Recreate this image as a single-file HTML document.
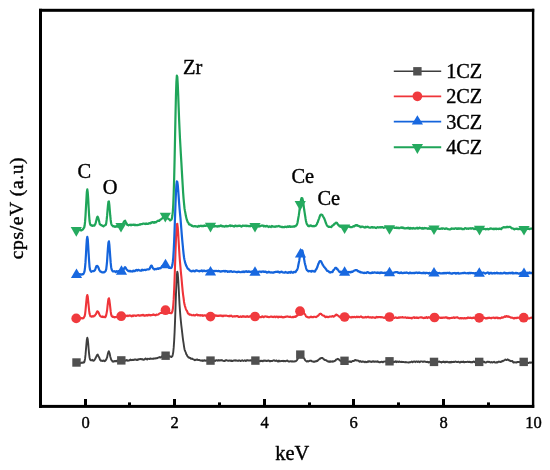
<!DOCTYPE html>
<html><head><meta charset="utf-8"><title>EDS spectra</title>
<style>html,body{margin:0;padding:0;background:#fff;}body{width:550px;height:470px;overflow:hidden;}svg{display:block;}svg text{stroke:#000;stroke-width:0.4px;stroke-linejoin:round;}</style>
</head><body>
<svg width="550" height="470" viewBox="0 0 550 470">
<rect width="550" height="470" fill="#fff"/>
<polyline fill="none" stroke="#3e3e3e" stroke-width="1.9" stroke-linejoin="round" stroke-linecap="round" points="76.50,362.96 76.95,363.03 77.40,363.40 77.85,363.17 78.30,363.09 78.75,363.12 79.20,362.78 79.65,362.90 80.10,363.07 80.55,363.30 81.00,362.78 81.45,362.71 81.90,362.49 82.35,362.91 82.80,362.91 83.25,362.23 83.70,362.55 84.15,362.32 84.60,361.11 85.05,358.92 85.50,354.94 85.95,349.64 86.40,344.40 86.85,339.61 87.30,337.77 87.75,339.37 88.20,343.45 88.65,349.02 89.10,353.82 89.55,357.49 90.00,359.22 90.45,360.08 90.90,360.23 91.35,360.33 91.80,360.10 92.25,359.85 92.70,360.41 93.15,360.70 93.60,360.70 94.05,360.52 94.50,359.94 94.95,359.29 95.40,358.56 95.85,357.37 96.30,356.71 96.75,355.47 97.20,355.00 97.65,354.54 98.10,355.39 98.55,356.50 99.00,357.04 99.45,358.08 99.90,359.58 100.35,360.10 100.80,360.88 101.25,360.77 101.70,360.42 102.15,360.75 102.60,361.05 103.05,360.75 103.50,360.45 103.95,360.53 104.40,361.14 104.85,361.24 105.30,360.65 105.75,360.28 106.20,359.56 106.65,358.43 107.10,357.45 107.55,355.15 108.00,353.27 108.45,351.78 108.90,351.21 109.35,352.53 109.80,354.05 110.25,356.52 110.70,358.09 111.15,359.55 111.60,360.22 112.05,360.61 112.50,361.42 112.95,361.66 113.40,361.28 113.85,361.58 114.30,361.10 114.75,361.01 115.20,361.36 115.65,361.32 116.10,360.80 116.55,361.31 117.00,360.85 117.45,360.64 117.90,360.98 118.35,360.73 118.80,360.56 119.25,360.25 119.70,360.09 120.15,360.44 120.60,360.29 121.05,360.51 121.50,360.42 121.95,360.43 122.40,360.88 122.85,360.66 123.30,360.62 123.75,360.85 124.20,360.34 124.65,360.04 125.10,360.56 125.55,360.73 126.00,360.29 126.45,360.00 126.90,360.34 127.35,360.68 127.80,360.16 128.25,360.57 128.70,360.70 129.15,360.51 129.60,360.23 130.05,359.79 130.50,359.50 130.95,360.18 131.40,359.85 131.85,360.09 132.30,359.79 132.75,360.14 133.20,360.10 133.65,359.79 134.10,359.52 134.55,359.86 135.00,359.43 135.45,359.34 135.90,359.58 136.35,359.96 136.80,359.91 137.25,359.58 137.70,359.97 138.15,359.51 138.60,359.10 139.05,359.11 139.50,359.26 139.95,358.97 140.40,358.92 140.85,359.05 141.30,359.29 141.75,359.00 142.20,359.04 142.65,359.53 143.10,359.84 143.55,359.69 144.00,359.63 144.45,359.50 144.90,359.01 145.35,358.65 145.80,358.42 146.25,359.09 146.70,359.21 147.15,359.48 147.60,358.74 148.05,358.90 148.50,358.82 148.95,358.97 149.40,358.66 149.85,359.09 150.30,358.44 150.75,358.52 151.20,358.71 151.65,358.92 152.10,358.86 152.55,358.77 153.00,358.79 153.45,358.88 153.90,358.39 154.35,358.42 154.80,358.61 155.25,358.64 155.70,358.21 156.15,358.30 156.60,358.38 157.05,358.12 157.50,358.00 157.95,357.68 158.40,357.66 158.85,357.61 159.30,357.04 159.75,357.18 160.20,357.48 160.65,357.45 161.10,357.17 161.55,356.59 162.00,356.46 162.45,356.09 162.90,355.63 163.35,355.62 163.80,354.83 164.25,354.97 164.70,354.37 165.15,354.61 165.60,354.69 166.05,354.61 166.50,355.13 166.95,355.34 167.40,355.70 167.85,356.29 168.30,356.09 168.75,355.87 169.20,356.09 169.65,356.59 170.10,356.45 170.55,356.41 171.00,357.05 171.45,357.06 171.90,356.62 172.35,356.27 172.80,354.52 173.25,352.07 173.70,347.41 174.15,340.88 174.60,332.10 175.05,320.86 175.50,307.91 175.95,294.40 176.40,283.07 176.85,275.07 177.30,271.68 177.75,273.51 178.20,279.45 178.65,287.58 179.10,296.25 179.55,304.64 180.00,311.16 180.45,316.59 180.90,321.46 181.35,325.53 181.80,329.31 182.25,333.20 182.70,337.08 183.15,340.51 183.60,343.47 184.05,346.57 184.50,349.15 184.95,350.68 185.40,351.69 185.85,352.63 186.30,354.26 186.75,354.68 187.20,355.80 187.65,356.50 188.10,356.85 188.55,357.65 189.00,357.50 189.45,357.66 189.90,358.10 190.35,358.04 190.80,358.81 191.25,358.72 191.70,358.63 192.15,358.55 192.60,359.07 193.05,359.20 193.50,359.46 193.95,359.65 194.40,359.92 194.85,360.22 195.30,360.16 195.75,359.72 196.20,359.79 196.65,359.59 197.10,359.37 197.55,359.71 198.00,360.13 198.45,359.89 198.90,359.89 199.35,359.99 199.80,360.39 200.25,360.43 200.70,360.52 201.15,360.69 201.60,360.46 202.05,360.70 202.50,360.92 202.95,360.29 203.40,360.74 203.85,360.78 204.30,360.27 204.75,360.30 205.20,360.48 205.65,360.82 206.10,360.51 206.55,360.53 207.00,360.82 207.45,360.89 207.90,361.06 208.35,360.72 208.80,360.71 209.25,360.31 209.70,360.58 210.15,360.80 210.60,360.75 211.05,360.79 211.50,360.36 211.95,360.77 212.40,361.04 212.85,361.18 213.30,360.85 213.75,360.91 214.20,360.52 214.65,360.86 215.10,360.98 215.55,360.59 216.00,360.15 216.45,360.26 216.90,360.41 217.35,360.68 217.80,360.57 218.25,360.10 218.70,360.56 219.15,360.13 219.60,360.57 220.05,360.23 220.50,360.21 220.95,360.61 221.40,360.22 221.85,360.04 222.30,360.28 222.75,360.59 223.20,360.85 223.65,360.84 224.10,361.07 224.55,360.78 225.00,361.04 225.45,360.40 225.90,360.20 226.35,360.38 226.80,360.26 227.25,360.59 227.70,360.68 228.15,360.62 228.60,360.88 229.05,360.75 229.50,360.47 229.95,360.39 230.40,360.77 230.85,361.01 231.30,360.50 231.75,360.83 232.20,361.10 232.65,360.84 233.10,360.75 233.55,360.38 234.00,360.49 234.45,360.52 234.90,360.62 235.35,360.16 235.80,360.77 236.25,360.67 236.70,360.52 237.15,360.81 237.60,360.74 238.05,360.64 238.50,360.77 238.95,360.27 239.40,360.45 239.85,360.43 240.30,360.91 240.75,361.12 241.20,360.63 241.65,360.58 242.10,360.24 242.55,360.35 243.00,360.74 243.45,361.02 243.90,360.78 244.35,360.51 244.80,360.27 245.25,360.53 245.70,360.94 246.15,360.43 246.60,360.76 247.05,360.25 247.50,360.14 247.95,360.12 248.40,360.53 248.85,360.40 249.30,360.37 249.75,360.59 250.20,360.24 250.65,360.64 251.10,360.29 251.55,360.47 252.00,360.33 252.45,360.21 252.90,360.46 253.35,360.50 253.80,360.47 254.25,360.49 254.70,360.61 255.15,360.34 255.60,360.25 256.05,360.59 256.50,360.77 256.95,360.76 257.40,361.05 257.85,360.99 258.30,361.18 258.75,360.71 259.20,360.94 259.65,361.12 260.10,361.30 260.55,360.86 261.00,360.65 261.45,361.09 261.90,360.68 262.35,361.18 262.80,361.33 263.25,360.73 263.70,360.53 264.15,360.88 264.60,360.63 265.05,360.36 265.50,360.89 265.95,360.79 266.40,361.08 266.85,360.63 267.30,360.65 267.75,360.92 268.20,360.46 268.65,360.40 269.10,360.80 269.55,361.21 270.00,361.47 270.45,360.84 270.90,360.88 271.35,361.13 271.80,361.02 272.25,361.14 272.70,360.76 273.15,360.46 273.60,360.35 274.05,360.23 274.50,360.64 274.95,360.82 275.40,360.95 275.85,360.65 276.30,360.53 276.75,360.49 277.20,361.05 277.65,361.47 278.10,361.62 278.55,360.95 279.00,360.59 279.45,361.22 279.90,361.09 280.35,361.30 280.80,361.02 281.25,361.01 281.70,361.05 282.15,360.99 282.60,361.12 283.05,360.66 283.50,361.05 283.95,361.38 284.40,360.95 284.85,360.99 285.30,361.26 285.75,361.10 286.20,360.83 286.65,360.67 287.10,360.91 287.55,360.58 288.00,361.20 288.45,361.44 288.90,361.47 289.35,361.62 289.80,361.50 290.25,361.23 290.70,361.28 291.15,361.21 291.60,361.61 292.05,361.65 292.50,361.18 292.95,361.53 293.40,361.54 293.85,361.56 294.30,361.57 294.75,361.16 295.20,361.32 295.65,361.27 296.10,360.91 296.55,360.57 297.00,360.11 297.45,359.21 297.90,358.64 298.35,357.34 298.80,356.50 299.25,355.79 299.70,354.71 300.15,354.27 300.60,354.24 301.05,354.29 301.50,354.17 301.95,355.08 302.40,355.70 302.85,356.16 303.30,357.12 303.75,357.94 304.20,358.67 304.65,359.19 305.10,360.23 305.55,360.59 306.00,360.93 306.45,361.23 306.90,361.62 307.35,360.98 307.80,361.21 308.25,361.45 308.70,361.13 309.15,361.11 309.60,360.78 310.05,360.75 310.50,360.90 310.95,360.73 311.40,360.78 311.85,361.40 312.30,361.38 312.75,361.34 313.20,361.74 313.65,361.57 314.10,361.87 314.55,361.70 315.00,361.75 315.45,361.10 315.90,361.22 316.35,361.37 316.80,360.74 317.25,361.11 317.70,360.47 318.15,360.27 318.60,359.69 319.05,359.48 319.50,359.25 319.95,358.43 320.40,358.65 320.85,358.17 321.30,357.99 321.75,358.01 322.20,357.92 322.65,357.99 323.10,358.57 323.55,359.01 324.00,359.20 324.45,359.90 324.90,360.04 325.35,360.00 325.80,360.29 326.25,360.32 326.70,360.48 327.15,361.13 327.60,361.15 328.05,361.62 328.50,361.73 328.95,361.16 329.40,361.72 329.85,361.96 330.30,361.30 330.75,361.71 331.20,361.49 331.65,361.41 332.10,361.79 332.55,361.29 333.00,361.25 333.45,361.52 333.90,361.36 334.35,360.92 334.80,361.01 335.25,360.75 335.70,360.28 336.15,359.48 336.60,359.46 337.05,359.27 337.50,358.99 337.95,358.81 338.40,359.28 338.85,359.32 339.30,359.80 339.75,360.39 340.20,360.63 340.65,360.67 341.10,361.06 341.55,361.15 342.00,361.55 342.45,361.55 342.90,361.97 343.35,362.15 343.80,362.05 344.25,361.55 344.70,361.19 345.15,361.72 345.60,361.88 346.05,361.82 346.50,361.56 346.95,361.35 347.40,361.62 347.85,361.65 348.30,361.69 348.75,361.74 349.20,361.88 349.65,361.44 350.10,361.28 350.55,361.85 351.00,362.06 351.45,362.12 351.90,361.37 352.35,360.97 352.80,360.90 353.25,360.94 353.70,361.06 354.15,360.56 354.60,360.63 355.05,360.17 355.50,359.91 355.95,360.30 356.40,360.40 356.85,360.58 357.30,360.51 357.75,360.67 358.20,360.59 358.65,360.76 359.10,361.28 359.55,361.68 360.00,361.23 360.45,361.07 360.90,361.63 361.35,361.76 361.80,361.96 362.25,361.56 362.70,361.55 363.15,361.40 363.60,361.83 364.05,361.64 364.50,361.81 364.95,362.20 365.40,361.79 365.85,361.79 366.30,361.97 366.75,362.22 367.20,361.90 367.65,361.69 368.10,361.34 368.55,361.86 369.00,361.41 369.45,361.19 369.90,361.51 370.35,361.60 370.80,361.83 371.25,361.59 371.70,361.90 372.15,361.43 372.60,361.32 373.05,361.67 373.50,361.32 373.95,361.35 374.40,361.74 374.85,361.91 375.30,361.62 375.75,361.36 376.20,361.42 376.65,361.78 377.10,361.64 377.55,361.34 378.00,361.73 378.45,361.80 378.90,362.15 379.35,362.34 379.80,362.41 380.25,362.02 380.70,362.16 381.15,361.78 381.60,361.60 382.05,361.58 382.50,362.06 382.95,362.26 383.40,361.78 383.85,361.64 384.30,361.58 384.75,361.55 385.20,361.56 385.65,361.56 386.10,361.39 386.55,361.63 387.00,361.97 387.45,361.90 387.90,362.14 388.35,362.01 388.80,361.60 389.25,361.92 389.70,362.19 390.15,361.78 390.60,361.35 391.05,361.58 391.50,361.72 391.95,361.81 392.40,362.21 392.85,362.13 393.30,362.23 393.75,361.62 394.20,361.74 394.65,362.02 395.10,361.53 395.55,361.28 396.00,361.75 396.45,362.13 396.90,361.59 397.35,361.81 397.80,361.48 398.25,361.86 398.70,361.96 399.15,361.65 399.60,361.47 400.05,361.88 400.50,361.86 400.95,362.07 401.40,361.84 401.85,361.68 402.30,362.17 402.75,362.14 403.20,361.97 403.65,361.93 404.10,362.07 404.55,362.13 405.00,362.35 405.45,362.00 405.90,362.21 406.35,362.17 406.80,362.31 407.25,362.35 407.70,362.39 408.15,362.46 408.60,362.56 409.05,362.32 409.50,362.10 409.95,362.16 410.40,362.27 410.85,361.99 411.30,361.84 411.75,361.53 412.20,361.90 412.65,362.32 413.10,361.97 413.55,361.61 414.00,361.47 414.45,361.59 414.90,361.54 415.35,362.12 415.80,361.59 416.25,361.55 416.70,361.36 417.15,361.75 417.60,362.05 418.05,361.67 418.50,361.38 418.95,361.59 419.40,361.80 419.85,362.21 420.30,361.62 420.75,361.40 421.20,361.35 421.65,361.36 422.10,361.38 422.55,361.83 423.00,361.94 423.45,361.67 423.90,361.49 424.35,361.50 424.80,361.40 425.25,361.88 425.70,361.72 426.15,361.85 426.60,362.16 427.05,362.01 427.50,361.74 427.95,362.17 428.40,362.41 428.85,362.02 429.30,362.00 429.75,362.37 430.20,362.12 430.65,361.77 431.10,361.44 431.55,362.08 432.00,362.27 432.45,361.99 432.90,361.98 433.35,361.97 433.80,361.74 434.25,362.28 434.70,362.24 435.15,361.85 435.60,361.45 436.05,361.67 436.50,361.69 436.95,362.08 437.40,362.20 437.85,362.16 438.30,361.74 438.75,361.53 439.20,361.58 439.65,361.55 440.10,362.08 440.55,362.03 441.00,362.11 441.45,362.48 441.90,362.01 442.35,362.01 442.80,361.67 443.25,362.06 443.70,361.56 444.15,362.05 444.60,362.32 445.05,362.43 445.50,361.82 445.95,361.69 446.40,362.02 446.85,361.64 447.30,361.79 447.75,361.85 448.20,362.32 448.65,362.23 449.10,362.43 449.55,362.03 450.00,362.27 450.45,362.05 450.90,362.39 451.35,361.82 451.80,362.20 452.25,361.83 452.70,361.95 453.15,362.00 453.60,361.69 454.05,362.14 454.50,361.90 454.95,361.78 455.40,361.51 455.85,361.58 456.30,361.76 456.75,362.08 457.20,361.92 457.65,362.13 458.10,361.71 458.55,361.77 459.00,361.85 459.45,362.35 459.90,362.48 460.35,362.38 460.80,361.76 461.25,361.78 461.70,362.09 462.15,361.81 462.60,361.97 463.05,361.96 463.50,361.55 463.95,362.23 464.40,362.39 464.85,361.94 465.30,362.09 465.75,361.87 466.20,361.84 466.65,361.97 467.10,361.82 467.55,361.78 468.00,361.81 468.45,362.07 468.90,361.83 469.35,361.66 469.80,362.06 470.25,361.89 470.70,362.36 471.15,362.26 471.60,362.35 472.05,362.04 472.50,362.34 472.95,361.82 473.40,361.61 473.85,361.46 474.30,361.91 474.75,362.17 475.20,361.82 475.65,361.84 476.10,362.25 476.55,362.23 477.00,361.77 477.45,361.67 477.90,361.55 478.35,361.46 478.80,361.67 479.25,361.48 479.70,362.15 480.15,362.04 480.60,362.06 481.05,362.19 481.50,362.37 481.95,362.50 482.40,362.18 482.85,361.97 483.30,361.94 483.75,361.57 484.20,361.73 484.65,362.08 485.10,362.51 485.55,362.55 486.00,362.45 486.45,362.36 486.90,361.78 487.35,361.78 487.80,361.78 488.25,362.06 488.70,361.72 489.15,361.79 489.60,361.94 490.05,362.27 490.50,362.47 490.95,362.37 491.40,361.92 491.85,362.24 492.30,362.53 492.75,362.35 493.20,362.08 493.65,362.09 494.10,361.76 494.55,362.12 495.00,362.54 495.45,362.33 495.90,362.40 496.35,362.54 496.80,362.04 497.25,362.46 497.70,362.37 498.15,361.93 498.60,361.60 499.05,361.55 499.50,361.80 499.95,361.99 500.40,361.71 500.85,362.05 501.30,361.63 501.75,361.42 502.20,360.91 502.65,361.30 503.10,360.62 503.55,360.84 504.00,360.50 504.45,360.22 504.90,359.98 505.35,359.51 505.80,359.80 506.25,359.99 506.70,359.94 507.15,359.77 507.60,359.32 508.05,359.82 508.50,359.71 508.95,360.33 509.40,360.19 509.85,360.55 510.30,361.09 510.75,360.89 511.20,361.23 511.65,361.06 512.10,361.00 512.55,361.17 513.00,362.03 513.45,362.45 513.90,362.43 514.35,362.13 514.80,362.32 515.25,362.48 515.70,362.25 516.15,362.33 516.60,362.56 517.05,361.97 517.50,361.85 517.95,362.03 518.40,361.83 518.85,361.95 519.30,362.18 519.75,361.94 520.20,362.13 520.65,362.00 521.10,362.21 521.55,362.10 522.00,362.33 522.45,361.90 522.90,362.26 523.35,361.97 523.80,362.56 524.25,362.53 524.70,362.40 525.15,362.29 525.60,362.42 526.05,362.55 526.50,362.68 526.95,362.74 527.40,362.53 527.85,362.89 528.30,362.93 528.75,362.97 529.20,362.59 529.65,362.42 530.10,362.46 530.55,362.78 531.00,362.61 531.45,362.52 531.90,362.40 532.35,362.76 532.80,362.42"/>
<g fill="#505050"><rect x="72.30" y="358.30" width="8.4" height="8.4"/><rect x="117.10" y="356.20" width="8.4" height="8.4"/><rect x="161.40" y="351.50" width="8.4" height="8.4"/><rect x="206.30" y="356.40" width="8.4" height="8.4"/><rect x="251.20" y="356.40" width="8.4" height="8.4"/><rect x="296.10" y="350.40" width="8.4" height="8.4"/><rect x="340.30" y="356.60" width="8.4" height="8.4"/><rect x="385.30" y="357.10" width="8.4" height="8.4"/><rect x="429.80" y="357.70" width="8.4" height="8.4"/><rect x="475.00" y="357.70" width="8.4" height="8.4"/><rect x="519.50" y="357.70" width="8.4" height="8.4"/></g>
<polyline fill="none" stroke="#ef3439" stroke-width="2.1" stroke-linejoin="round" stroke-linecap="round" points="76.50,318.70 76.95,318.15 77.40,317.77 77.85,318.44 78.30,318.04 78.75,317.78 79.20,318.11 79.65,318.00 80.10,318.42 80.55,318.04 81.00,318.49 81.45,318.13 81.90,318.20 82.35,318.45 82.80,318.28 83.25,318.32 83.70,317.98 84.15,316.87 84.60,316.29 85.05,314.26 85.50,310.61 85.95,305.60 86.40,300.78 86.85,296.47 87.30,295.07 87.75,296.66 88.20,301.00 88.65,305.89 89.10,310.45 89.55,313.57 90.00,315.01 90.45,316.28 90.90,316.22 91.35,316.51 91.80,316.76 92.25,316.62 92.70,316.12 93.15,316.49 93.60,316.52 94.05,316.04 94.50,315.56 94.95,315.50 95.40,314.60 95.85,314.39 96.30,313.29 96.75,312.22 97.20,311.37 97.65,311.32 98.10,312.04 98.55,312.55 99.00,313.54 99.45,314.74 99.90,315.39 100.35,316.13 100.80,316.51 101.25,316.61 101.70,316.88 102.15,316.88 102.60,316.48 103.05,317.10 103.50,316.84 103.95,316.78 104.40,316.71 104.85,317.10 105.30,317.17 105.75,316.43 106.20,315.16 106.65,312.83 107.10,310.29 107.55,305.93 108.00,302.02 108.45,299.00 108.90,298.23 109.35,300.01 109.80,303.45 110.25,307.41 110.70,311.39 111.15,314.37 111.60,315.95 112.05,316.34 112.50,316.92 112.95,316.59 113.40,316.70 113.85,317.11 114.30,317.38 114.75,317.09 115.20,317.27 115.65,317.04 116.10,316.93 116.55,316.92 117.00,317.26 117.45,317.20 117.90,316.91 118.35,316.98 118.80,316.92 119.25,316.62 119.70,316.84 120.15,316.97 120.60,316.83 121.05,317.05 121.50,316.31 121.95,316.36 122.40,316.49 122.85,316.27 123.30,316.00 123.75,316.32 124.20,316.23 124.65,316.02 125.10,315.70 125.55,316.35 126.00,316.11 126.45,315.77 126.90,315.67 127.35,315.64 127.80,316.16 128.25,315.78 128.70,315.67 129.15,315.44 129.60,315.64 130.05,315.49 130.50,315.54 130.95,315.91 131.40,316.26 131.85,316.35 132.30,315.67 132.75,315.63 133.20,316.02 133.65,315.48 134.10,315.35 134.55,315.54 135.00,315.53 135.45,315.85 135.90,315.98 136.35,315.80 136.80,315.52 137.25,315.35 137.70,315.29 138.15,315.08 138.60,315.50 139.05,315.25 139.50,315.78 139.95,315.81 140.40,315.29 140.85,315.41 141.30,315.55 141.75,315.10 142.20,315.27 142.65,314.93 143.10,315.41 143.55,314.95 144.00,315.28 144.45,315.74 144.90,315.84 145.35,315.33 145.80,315.33 146.25,314.96 146.70,314.95 147.15,315.40 147.60,315.57 148.05,314.92 148.50,314.91 148.95,315.13 149.40,314.81 149.85,315.20 150.30,315.47 150.75,315.28 151.20,315.01 151.65,315.29 152.10,315.12 152.55,314.73 153.00,314.61 153.45,314.43 153.90,314.94 154.35,314.88 154.80,315.01 155.25,315.15 155.70,315.32 156.15,314.67 156.60,314.50 157.05,314.80 157.50,314.81 157.95,314.43 158.40,314.43 158.85,313.95 159.30,313.59 159.75,313.21 160.20,313.20 160.65,312.92 161.10,312.85 161.55,313.02 162.00,312.15 162.45,311.84 162.90,311.74 163.35,311.25 163.80,310.78 164.25,310.66 164.70,309.88 165.15,310.36 165.60,310.45 166.05,310.74 166.50,311.08 166.95,310.78 167.40,310.79 167.85,311.07 168.30,311.66 168.75,312.46 169.20,312.92 169.65,312.76 170.10,312.91 170.55,313.16 171.00,312.86 171.45,313.09 171.90,312.73 172.35,311.43 172.80,309.27 173.25,305.35 173.70,299.14 174.15,290.12 174.60,278.70 175.05,265.43 175.50,251.47 175.95,239.59 176.40,229.83 176.85,224.26 177.30,223.83 177.75,227.28 178.20,233.91 178.65,241.55 179.10,249.01 179.55,256.03 180.00,261.94 180.45,267.06 180.90,272.24 181.35,276.68 181.80,281.50 182.25,286.55 182.70,291.32 183.15,295.09 183.60,298.27 184.05,301.95 184.50,304.38 184.95,306.10 185.40,307.49 185.85,308.79 186.30,309.93 186.75,310.72 187.20,311.36 187.65,312.81 188.10,313.61 188.55,313.57 189.00,314.02 189.45,314.65 189.90,314.77 190.35,314.49 190.80,314.63 191.25,314.76 191.70,315.32 192.15,315.32 192.60,315.21 193.05,315.32 193.50,314.86 193.95,315.20 194.40,315.49 194.85,315.52 195.30,315.26 195.75,315.07 196.20,314.73 196.65,314.64 197.10,314.66 197.55,314.94 198.00,315.38 198.45,315.11 198.90,315.20 199.35,315.40 199.80,315.51 200.25,315.01 200.70,315.58 201.15,315.57 201.60,315.32 202.05,315.14 202.50,315.46 202.95,315.85 203.40,315.51 203.85,315.41 204.30,315.50 204.75,315.21 205.20,315.28 205.65,315.78 206.10,315.71 206.55,315.92 207.00,315.53 207.45,315.89 207.90,315.99 208.35,315.55 208.80,315.61 209.25,315.78 209.70,315.77 210.15,315.80 210.60,315.50 211.05,315.63 211.50,315.53 211.95,315.88 212.40,315.68 212.85,316.13 213.30,316.01 213.75,315.63 214.20,315.62 214.65,315.36 215.10,315.78 215.55,315.38 216.00,315.69 216.45,315.58 216.90,315.95 217.35,315.56 217.80,315.87 218.25,316.06 218.70,315.73 219.15,315.48 219.60,315.57 220.05,315.88 220.50,315.69 220.95,315.37 221.40,315.61 221.85,316.06 222.30,315.71 222.75,316.24 223.20,316.13 223.65,315.76 224.10,315.53 224.55,315.67 225.00,315.83 225.45,315.65 225.90,315.49 226.35,315.79 226.80,315.72 227.25,315.86 227.70,315.95 228.15,316.21 228.60,316.25 229.05,315.96 229.50,315.77 229.95,316.30 230.40,315.84 230.85,315.68 231.30,315.56 231.75,316.19 232.20,316.25 232.65,316.63 233.10,316.56 233.55,316.27 234.00,316.21 234.45,316.46 234.90,316.15 235.35,316.51 235.80,316.34 236.25,315.93 236.70,316.00 237.15,316.24 237.60,315.99 238.05,316.56 238.50,316.87 238.95,316.65 239.40,316.90 239.85,316.84 240.30,316.68 240.75,316.27 241.20,316.78 241.65,317.01 242.10,316.71 242.55,316.51 243.00,316.13 243.45,316.44 243.90,316.82 244.35,316.59 244.80,316.39 245.25,316.59 245.70,316.86 246.15,316.44 246.60,316.33 247.05,316.61 247.50,316.22 247.95,316.72 248.40,316.53 248.85,316.90 249.30,316.76 249.75,316.43 250.20,316.14 250.65,316.08 251.10,316.18 251.55,316.68 252.00,316.97 252.45,316.97 252.90,316.68 253.35,316.86 253.80,317.01 254.25,316.76 254.70,316.38 255.15,316.55 255.60,316.41 256.05,316.31 256.50,316.45 256.95,316.23 257.40,316.87 257.85,316.63 258.30,317.08 258.75,317.15 259.20,316.54 259.65,317.04 260.10,317.21 260.55,317.04 261.00,317.28 261.45,317.04 261.90,316.51 262.35,316.36 262.80,316.44 263.25,316.97 263.70,317.21 264.15,316.70 264.60,316.65 265.05,316.41 265.50,316.40 265.95,316.51 266.40,316.63 266.85,316.45 267.30,316.82 267.75,316.63 268.20,317.12 268.65,317.00 269.10,316.90 269.55,317.15 270.00,316.90 270.45,316.70 270.90,316.48 271.35,316.53 271.80,316.50 272.25,316.94 272.70,316.82 273.15,317.08 273.60,316.83 274.05,316.52 274.50,316.58 274.95,316.69 275.40,317.21 275.85,316.83 276.30,316.66 276.75,316.53 277.20,316.55 277.65,317.20 278.10,317.50 278.55,317.02 279.00,316.62 279.45,316.82 279.90,317.01 280.35,316.68 280.80,316.80 281.25,317.17 281.70,316.67 282.15,317.07 282.60,317.24 283.05,317.42 283.50,317.24 283.95,317.13 284.40,317.13 284.85,316.79 285.30,316.96 285.75,316.79 286.20,316.78 286.65,316.53 287.10,316.50 287.55,316.40 288.00,316.78 288.45,316.70 288.90,316.95 289.35,317.02 289.80,316.81 290.25,316.62 290.70,316.94 291.15,317.17 291.60,317.30 292.05,317.20 292.50,317.21 292.95,316.71 293.40,316.71 293.85,317.14 294.30,316.96 294.75,316.58 295.20,316.62 295.65,316.93 296.10,316.29 296.55,315.80 297.00,315.65 297.45,315.59 297.90,314.73 298.35,313.72 298.80,313.18 299.25,311.81 299.70,310.84 300.15,310.25 300.60,309.93 301.05,309.68 301.50,309.14 301.95,309.04 302.40,309.44 302.85,309.88 303.30,310.74 303.75,312.13 304.20,313.49 304.65,313.94 305.10,314.33 305.55,315.38 306.00,316.31 306.45,316.74 306.90,316.71 307.35,317.04 307.80,317.25 308.25,317.35 308.70,317.19 309.15,317.56 309.60,317.56 310.05,317.06 310.50,316.99 310.95,316.65 311.40,316.73 311.85,317.17 312.30,317.09 312.75,317.08 313.20,317.30 313.65,316.78 314.10,316.74 314.55,316.82 315.00,316.83 315.45,316.95 315.90,317.15 316.35,317.02 316.80,316.57 317.25,316.30 317.70,315.82 318.15,315.77 318.60,315.18 319.05,314.69 319.50,314.13 319.95,313.79 320.40,313.92 320.85,313.71 321.30,314.22 321.75,314.51 322.20,315.07 322.65,315.35 323.10,315.58 323.55,315.70 324.00,315.59 324.45,316.23 324.90,316.71 325.35,316.99 325.80,317.19 326.25,316.66 326.70,316.99 327.15,316.79 327.60,316.80 328.05,317.23 328.50,317.03 328.95,316.99 329.40,316.59 329.85,316.50 330.30,316.48 330.75,316.46 331.20,316.72 331.65,316.39 332.10,316.21 332.55,316.06 333.00,316.48 333.45,316.79 333.90,316.61 334.35,316.17 334.80,315.45 335.25,315.57 335.70,314.95 336.15,314.56 336.60,314.77 337.05,315.27 337.50,315.15 337.95,315.72 338.40,315.69 338.85,316.38 339.30,316.65 339.75,316.99 340.20,317.34 340.65,317.41 341.10,316.92 341.55,316.98 342.00,317.04 342.45,317.24 342.90,316.89 343.35,317.04 343.80,316.84 344.25,316.66 344.70,316.81 345.15,317.20 345.60,317.17 346.05,316.98 346.50,316.77 346.95,316.78 347.40,316.83 347.85,316.73 348.30,316.72 348.75,316.64 349.20,316.66 349.65,317.02 350.10,317.15 350.55,317.22 351.00,317.52 351.45,317.44 351.90,316.92 352.35,316.91 352.80,317.01 353.25,317.26 353.70,317.19 354.15,316.76 354.60,316.90 355.05,317.12 355.50,317.36 355.95,317.17 356.40,316.86 356.85,316.55 357.30,316.82 357.75,317.17 358.20,316.78 358.65,316.95 359.10,317.10 359.55,317.15 360.00,316.88 360.45,316.62 360.90,316.42 361.35,316.58 361.80,317.19 362.25,317.07 362.70,317.52 363.15,317.60 363.60,317.42 364.05,317.21 364.50,317.21 364.95,317.46 365.40,317.14 365.85,316.82 366.30,317.33 366.75,317.34 367.20,317.13 367.65,317.04 368.10,316.73 368.55,317.00 369.00,317.33 369.45,317.24 369.90,317.38 370.35,317.49 370.80,317.18 371.25,317.30 371.70,317.67 372.15,317.62 372.60,317.12 373.05,317.31 373.50,317.38 373.95,317.54 374.40,317.56 374.85,317.76 375.30,317.92 375.75,317.31 376.20,317.25 376.65,316.84 377.10,317.48 377.55,317.01 378.00,317.07 378.45,317.27 378.90,317.20 379.35,316.94 379.80,317.11 380.25,316.95 380.70,317.11 381.15,317.39 381.60,317.16 382.05,317.18 382.50,317.36 382.95,317.37 383.40,317.61 383.85,317.82 384.30,317.99 384.75,317.36 385.20,317.33 385.65,316.99 386.10,317.35 386.55,317.26 387.00,317.62 387.45,317.48 387.90,317.69 388.35,317.11 388.80,317.34 389.25,317.29 389.70,317.64 390.15,317.16 390.60,316.91 391.05,317.32 391.50,317.21 391.95,317.25 392.40,317.25 392.85,317.77 393.30,317.71 393.75,317.87 394.20,317.96 394.65,318.02 395.10,317.69 395.55,317.38 396.00,317.43 396.45,317.80 396.90,317.98 397.35,317.71 397.80,317.96 398.25,317.96 398.70,317.31 399.15,317.52 399.60,317.78 400.05,317.23 400.50,317.26 400.95,317.52 401.40,317.52 401.85,317.55 402.30,317.16 402.75,317.13 403.20,317.66 403.65,317.46 404.10,317.48 404.55,317.59 405.00,317.37 405.45,317.38 405.90,317.47 406.35,317.84 406.80,318.00 407.25,317.49 407.70,317.53 408.15,317.77 408.60,318.03 409.05,317.83 409.50,317.82 409.95,317.83 410.40,317.85 410.85,318.07 411.30,318.27 411.75,318.37 412.20,317.64 412.65,317.81 413.10,317.61 413.55,317.41 414.00,317.15 414.45,317.75 414.90,318.03 415.35,317.85 415.80,317.73 416.25,317.41 416.70,317.90 417.15,318.00 417.60,317.51 418.05,317.64 418.50,318.09 418.95,317.65 419.40,317.53 419.85,317.47 420.30,317.44 420.75,317.20 421.20,317.55 421.65,317.37 422.10,317.68 422.55,317.65 423.00,317.97 423.45,318.04 423.90,318.18 424.35,317.62 424.80,317.92 425.25,318.05 425.70,317.68 426.15,317.24 426.60,317.11 427.05,317.65 427.50,318.10 427.95,317.51 428.40,317.38 428.85,317.46 429.30,317.20 429.75,317.59 430.20,317.98 430.65,318.16 431.10,317.66 431.55,318.06 432.00,318.16 432.45,317.64 432.90,318.01 433.35,318.26 433.80,318.35 434.25,318.28 434.70,318.30 435.15,318.06 435.60,317.47 436.05,317.78 436.50,317.77 436.95,317.46 437.40,317.29 437.85,317.88 438.30,318.19 438.75,317.59 439.20,317.25 439.65,317.70 440.10,317.56 440.55,318.01 441.00,317.87 441.45,318.03 441.90,317.51 442.35,317.91 442.80,317.59 443.25,317.64 443.70,317.72 444.15,317.61 444.60,317.49 445.05,317.61 445.50,317.32 445.95,317.27 446.40,317.22 446.85,317.85 447.30,317.68 447.75,318.20 448.20,318.39 448.65,317.82 449.10,318.16 449.55,318.45 450.00,318.11 450.45,317.97 450.90,318.08 451.35,317.97 451.80,317.71 452.25,318.01 452.70,317.69 453.15,317.69 453.60,317.36 454.05,317.47 454.50,317.96 454.95,317.61 455.40,317.47 455.85,317.59 456.30,317.57 456.75,317.29 457.20,317.20 457.65,317.28 458.10,317.86 458.55,318.13 459.00,318.29 459.45,318.28 459.90,318.54 460.35,318.01 460.80,318.14 461.25,317.98 461.70,318.36 462.15,318.08 462.60,318.20 463.05,318.30 463.50,318.52 463.95,318.46 464.40,318.03 464.85,318.11 465.30,318.28 465.75,318.49 466.20,317.98 466.65,318.15 467.10,318.23 467.55,317.77 468.00,317.50 468.45,317.76 468.90,317.93 469.35,317.77 469.80,317.95 470.25,317.62 470.70,317.84 471.15,317.91 471.60,318.21 472.05,318.27 472.50,317.72 472.95,317.87 473.40,317.56 473.85,317.77 474.30,318.01 474.75,318.15 475.20,317.60 475.65,317.79 476.10,317.57 476.55,317.75 477.00,317.83 477.45,317.87 477.90,318.14 478.35,317.85 478.80,317.87 479.25,317.67 479.70,317.53 480.15,317.85 480.60,317.58 481.05,318.03 481.50,317.87 481.95,317.55 482.40,318.00 482.85,317.54 483.30,317.55 483.75,317.88 484.20,317.48 484.65,317.89 485.10,317.97 485.55,318.38 486.00,317.99 486.45,318.26 486.90,318.53 487.35,318.24 487.80,317.71 488.25,317.68 488.70,318.10 489.15,317.57 489.60,317.88 490.05,317.93 490.50,318.15 490.95,317.93 491.40,318.33 491.85,317.79 492.30,317.80 492.75,317.70 493.20,317.88 493.65,317.66 494.10,317.70 494.55,317.78 495.00,318.25 495.45,317.67 495.90,317.62 496.35,317.47 496.80,317.90 497.25,318.16 497.70,317.61 498.15,318.02 498.60,318.31 499.05,318.06 499.50,318.05 499.95,318.19 500.40,318.36 500.85,317.78 501.30,317.88 501.75,317.32 502.20,317.24 502.65,317.62 503.10,317.50 503.55,317.28 504.00,317.02 504.45,316.83 504.90,316.30 505.35,316.47 505.80,316.86 506.25,316.30 506.70,315.96 507.15,316.33 507.60,316.74 508.05,316.64 508.50,316.34 508.95,316.76 509.40,317.06 509.85,316.89 510.30,317.40 510.75,317.48 511.20,317.79 511.65,317.49 512.10,317.50 512.55,317.80 513.00,317.98 513.45,318.25 513.90,318.49 514.35,318.41 514.80,317.74 515.25,317.82 515.70,318.05 516.15,318.26 516.60,317.95 517.05,317.57 517.50,317.85 517.95,317.64 518.40,317.82 518.85,317.66 519.30,318.16 519.75,317.65 520.20,317.87 520.65,318.27 521.10,318.25 521.55,317.80 522.00,317.94 522.45,318.26 522.90,318.24 523.35,318.48 523.80,318.52 524.25,318.15 524.70,317.73 525.15,318.03 525.60,317.99 526.05,318.28 526.50,318.09 526.95,318.24 527.40,317.79 527.85,318.12 528.30,318.39 528.75,318.47 529.20,318.48 529.65,318.39 530.10,317.90 530.55,317.79 531.00,317.70 531.45,317.66 531.90,317.91 532.35,317.83 532.80,318.06"/>
<g fill="#f03a3e"><circle cx="76.20" cy="318.40" r="4.85"/><circle cx="121.20" cy="316.20" r="4.85"/><circle cx="165.50" cy="310.20" r="4.85"/><circle cx="210.50" cy="316.60" r="4.85"/><circle cx="255.00" cy="316.50" r="4.85"/><circle cx="300.00" cy="311.20" r="4.85"/><circle cx="344.60" cy="317.00" r="4.85"/><circle cx="389.50" cy="317.00" r="4.85"/><circle cx="434.50" cy="317.50" r="4.85"/><circle cx="479.20" cy="317.80" r="4.85"/><circle cx="523.70" cy="317.70" r="4.85"/></g>
<polyline fill="none" stroke="#1464dc" stroke-width="2.2" stroke-linejoin="round" stroke-linecap="round" points="76.50,273.85 76.95,273.98 77.40,274.23 77.85,273.88 78.30,274.07 78.75,274.39 79.20,274.59 79.65,274.06 80.10,274.23 80.55,274.30 81.00,274.26 81.45,274.67 81.90,274.50 82.35,274.19 82.80,274.37 83.25,274.05 83.70,273.34 84.15,272.42 84.60,270.89 85.05,267.32 85.50,262.18 85.95,254.76 86.40,246.04 86.85,239.38 87.30,236.84 87.75,239.19 88.20,245.97 88.65,253.83 89.10,260.96 89.55,266.83 90.00,269.48 90.45,270.63 90.90,271.62 91.35,271.84 91.80,271.30 92.25,271.22 92.70,271.15 93.15,271.13 93.60,270.84 94.05,271.03 94.50,270.65 94.95,270.09 95.40,268.97 95.85,267.62 96.30,266.25 96.75,266.01 97.20,265.92 97.65,266.27 98.10,266.87 98.55,268.00 99.00,269.18 99.45,270.35 99.90,270.89 100.35,271.44 100.80,271.67 101.25,271.79 101.70,272.27 102.15,272.33 102.60,272.32 103.05,272.19 103.50,272.26 103.95,272.50 104.40,272.14 104.85,271.64 105.30,271.49 105.75,270.68 106.20,269.30 106.65,265.63 107.10,261.03 107.55,253.92 108.00,247.41 108.45,242.58 108.90,241.27 109.35,244.62 109.80,250.54 110.25,256.88 110.70,262.89 111.15,267.21 111.60,269.19 112.05,270.19 112.50,271.04 112.95,271.49 113.40,271.46 113.85,271.40 114.30,271.44 114.75,271.24 115.20,271.70 115.65,272.01 116.10,271.74 116.55,271.19 117.00,271.25 117.45,271.66 117.90,271.43 118.35,271.12 118.80,271.04 119.25,271.48 119.70,271.62 120.15,271.39 120.60,271.57 121.05,271.76 121.50,271.96 121.95,271.80 122.40,271.12 122.85,270.73 123.30,270.14 123.75,269.25 124.20,268.26 124.65,267.43 125.10,267.11 125.55,267.69 126.00,268.35 126.45,269.31 126.90,269.74 127.35,270.06 127.80,270.47 128.25,270.98 128.70,271.22 129.15,270.98 129.60,270.84 130.05,271.44 130.50,270.90 130.95,271.38 131.40,271.45 131.85,271.28 132.30,271.54 132.75,271.37 133.20,270.65 133.65,271.10 134.10,270.82 134.55,271.11 135.00,271.14 135.45,270.51 135.90,270.09 136.35,269.83 136.80,270.36 137.25,270.60 137.70,270.19 138.15,269.86 138.60,269.89 139.05,270.27 139.50,270.38 139.95,270.52 140.40,270.72 140.85,270.64 141.30,270.68 141.75,269.97 142.20,269.62 142.65,270.22 143.10,270.31 143.55,270.11 144.00,269.83 144.45,269.89 144.90,269.93 145.35,270.06 145.80,270.05 146.25,269.80 146.70,269.55 147.15,269.51 147.60,269.40 148.05,269.28 148.50,269.42 148.95,269.05 149.40,269.09 149.85,268.32 150.30,267.21 150.75,266.40 151.20,265.70 151.65,265.68 152.10,266.42 152.55,267.56 153.00,268.40 153.45,268.77 153.90,268.95 154.35,269.47 154.80,268.95 155.25,269.06 155.70,269.03 156.15,268.89 156.60,269.19 157.05,268.86 157.50,268.48 157.95,268.34 158.40,268.94 158.85,268.58 159.30,268.09 159.75,268.48 160.20,268.22 160.65,268.19 161.10,267.42 161.55,267.25 162.00,266.27 162.45,265.76 162.90,265.83 163.35,265.49 163.80,265.48 164.25,265.09 164.70,265.36 165.15,264.86 165.60,265.23 166.05,265.17 166.50,265.33 166.95,266.20 167.40,266.40 167.85,266.99 168.30,266.94 168.75,267.41 169.20,267.89 169.65,267.91 170.10,267.60 170.55,267.87 171.00,268.16 171.45,267.90 171.90,266.83 172.35,265.08 172.80,261.92 173.25,257.76 173.70,250.57 174.15,241.12 174.60,229.33 175.05,216.42 175.50,203.78 175.95,192.89 176.40,184.89 176.85,181.27 177.30,181.90 177.75,184.93 178.20,190.12 178.65,196.43 179.10,202.81 179.55,208.52 180.00,213.42 180.45,217.89 180.90,223.49 181.35,229.22 181.80,234.86 182.25,240.06 182.70,244.97 183.15,249.68 183.60,253.90 184.05,257.50 184.50,259.88 184.95,261.87 185.40,263.31 185.85,264.76 186.30,265.92 186.75,266.65 187.20,267.51 187.65,268.63 188.10,268.82 188.55,269.13 189.00,269.48 189.45,270.28 189.90,270.28 190.35,270.77 190.80,271.13 191.25,271.28 191.70,271.30 192.15,270.77 192.60,270.74 193.05,271.06 193.50,270.71 193.95,270.86 194.40,271.18 194.85,271.40 195.30,270.99 195.75,270.58 196.20,270.30 196.65,270.42 197.10,270.69 197.55,270.59 198.00,271.03 198.45,271.10 198.90,271.11 199.35,271.31 199.80,270.96 200.25,271.08 200.70,270.87 201.15,270.72 201.60,270.49 202.05,270.98 202.50,271.33 202.95,270.73 203.40,271.05 203.85,270.63 204.30,270.74 204.75,270.70 205.20,271.22 205.65,271.06 206.10,271.05 206.55,270.91 207.00,270.76 207.45,270.67 207.90,270.47 208.35,270.33 208.80,270.75 209.25,271.13 209.70,271.26 210.15,270.96 210.60,271.47 211.05,270.91 211.50,270.95 211.95,270.89 212.40,270.72 212.85,271.34 213.30,271.44 213.75,270.96 214.20,270.77 214.65,271.25 215.10,271.10 215.55,270.96 216.00,270.89 216.45,270.89 216.90,271.13 217.35,271.00 217.80,271.19 218.25,270.82 218.70,271.06 219.15,271.23 219.60,271.08 220.05,271.50 220.50,271.77 220.95,271.66 221.40,271.39 221.85,271.04 222.30,271.28 222.75,271.10 223.20,270.90 223.65,271.14 224.10,270.96 224.55,271.27 225.00,271.54 225.45,271.01 225.90,271.30 226.35,271.05 226.80,271.07 227.25,271.42 227.70,271.82 228.15,271.44 228.60,271.65 229.05,271.39 229.50,271.80 229.95,271.32 230.40,271.52 230.85,271.11 231.30,271.33 231.75,271.61 232.20,271.91 232.65,271.93 233.10,271.75 233.55,271.52 234.00,271.62 234.45,271.70 234.90,271.70 235.35,271.80 235.80,271.88 236.25,272.10 236.70,271.93 237.15,272.07 237.60,272.03 238.05,271.69 238.50,271.90 238.95,271.61 239.40,271.89 239.85,272.08 240.30,272.20 240.75,272.27 241.20,272.11 241.65,271.86 242.10,271.55 242.55,271.72 243.00,272.03 243.45,271.71 243.90,271.42 244.35,271.78 244.80,272.09 245.25,271.62 245.70,271.33 246.15,271.16 246.60,271.48 247.05,271.89 247.50,271.58 247.95,271.91 248.40,271.41 248.85,271.31 249.30,271.57 249.75,271.89 250.20,271.82 250.65,271.96 251.10,271.74 251.55,271.65 252.00,271.74 252.45,271.32 252.90,271.29 253.35,271.41 253.80,271.75 254.25,271.51 254.70,271.44 255.15,272.07 255.60,272.09 256.05,271.89 256.50,272.12 256.95,272.18 257.40,272.31 257.85,272.14 258.30,272.11 258.75,271.63 259.20,271.70 259.65,271.70 260.10,271.58 260.55,271.62 261.00,272.12 261.45,271.77 261.90,271.50 262.35,271.57 262.80,271.46 263.25,271.27 263.70,271.98 264.15,272.01 264.60,271.56 265.05,271.80 265.50,271.59 265.95,271.77 266.40,272.28 266.85,272.57 267.30,272.19 267.75,272.36 268.20,272.18 268.65,271.72 269.10,271.79 269.55,272.19 270.00,272.37 270.45,272.41 270.90,272.67 271.35,272.26 271.80,272.35 272.25,272.50 272.70,272.67 273.15,272.71 273.60,272.74 274.05,272.28 274.50,272.08 274.95,272.20 275.40,271.82 275.85,271.80 276.30,271.85 276.75,271.73 277.20,271.65 277.65,272.04 278.10,271.93 278.55,271.65 279.00,272.18 279.45,272.58 279.90,272.13 280.35,272.33 280.80,271.89 281.25,271.79 281.70,271.70 282.15,272.09 282.60,272.21 283.05,272.51 283.50,272.51 283.95,272.61 284.40,272.77 284.85,272.58 285.30,272.17 285.75,271.91 286.20,272.40 286.65,272.62 287.10,272.57 287.55,272.82 288.00,272.82 288.45,272.45 288.90,272.07 289.35,272.10 289.80,272.56 290.25,272.76 290.70,272.07 291.15,271.72 291.60,271.94 292.05,272.47 292.50,272.71 292.95,272.78 293.40,272.12 293.85,271.89 294.30,272.24 294.75,272.06 295.20,271.74 295.65,271.98 296.10,270.97 296.55,270.48 297.00,270.01 297.45,268.85 297.90,267.47 298.35,265.07 298.80,262.81 299.25,260.66 299.70,257.44 300.15,254.88 300.60,253.15 301.05,250.96 301.50,250.28 301.95,250.26 302.40,250.58 302.85,252.50 303.30,254.59 303.75,256.48 304.20,259.57 304.65,262.28 305.10,264.33 305.55,265.80 306.00,267.83 306.45,269.11 306.90,270.16 307.35,270.25 307.80,270.73 308.25,271.29 308.70,271.49 309.15,271.07 309.60,270.97 310.05,271.02 310.50,271.02 310.95,271.50 311.40,271.68 311.85,270.95 312.30,271.15 312.75,270.83 313.20,271.33 313.65,271.26 314.10,271.52 314.55,271.57 315.00,271.46 315.45,270.46 315.90,269.51 316.35,269.21 316.80,268.21 317.25,267.34 317.70,265.92 318.15,264.52 318.60,263.53 319.05,262.28 319.50,261.54 319.95,261.06 320.40,261.24 320.85,261.10 321.30,261.80 321.75,262.69 322.20,263.66 322.65,264.72 323.10,265.12 323.55,266.15 324.00,266.74 324.45,267.06 324.90,267.72 325.35,268.23 325.80,269.09 326.25,269.29 326.70,270.46 327.15,270.80 327.60,270.83 328.05,271.04 328.50,271.45 328.95,271.63 329.40,272.26 329.85,272.16 330.30,272.57 330.75,272.15 331.20,271.93 331.65,272.26 332.10,272.19 332.55,272.02 333.00,270.95 333.45,270.09 333.90,269.93 334.35,269.24 334.80,268.46 335.25,267.91 335.70,267.81 336.15,267.82 336.60,268.32 337.05,269.11 337.50,269.06 337.95,269.89 338.40,270.40 338.85,271.12 339.30,271.76 339.75,272.13 340.20,271.68 340.65,272.05 341.10,272.29 341.55,272.06 342.00,271.63 342.45,272.07 342.90,272.17 343.35,272.33 343.80,272.40 344.25,272.41 344.70,271.79 345.15,272.28 345.60,272.53 346.05,272.11 346.50,272.28 346.95,272.50 347.40,272.15 347.85,271.88 348.30,271.98 348.75,272.19 349.20,271.95 349.65,272.08 350.10,272.37 350.55,271.98 351.00,272.24 351.45,271.65 351.90,271.72 352.35,271.92 352.80,271.55 353.25,271.16 353.70,270.86 354.15,270.67 354.60,270.48 355.05,270.33 355.50,270.09 355.95,270.30 356.40,270.12 356.85,270.15 357.30,270.47 357.75,271.16 358.20,271.08 358.65,271.08 359.10,271.72 359.55,271.97 360.00,271.75 360.45,272.46 360.90,272.17 361.35,272.44 361.80,272.26 362.25,272.72 362.70,272.57 363.15,272.75 363.60,273.01 364.05,273.09 364.50,272.80 364.95,272.67 365.40,272.83 365.85,272.85 366.30,273.02 366.75,272.53 367.20,272.27 367.65,272.08 368.10,272.70 368.55,272.44 369.00,272.83 369.45,272.75 369.90,273.16 370.35,273.07 370.80,273.21 371.25,272.60 371.70,273.01 372.15,272.75 372.60,272.31 373.05,272.82 373.50,272.50 373.95,272.72 374.40,272.25 374.85,272.39 375.30,272.48 375.75,272.51 376.20,272.86 376.65,272.54 377.10,272.94 377.55,272.46 378.00,272.94 378.45,272.56 378.90,272.72 379.35,273.03 379.80,272.95 380.25,273.07 380.70,272.44 381.15,272.92 381.60,272.33 382.05,272.61 382.50,272.89 382.95,272.97 383.40,272.98 383.85,272.88 384.30,273.18 384.75,272.64 385.20,272.99 385.65,273.07 386.10,272.57 386.55,272.56 387.00,272.53 387.45,272.26 387.90,272.76 388.35,273.02 388.80,273.05 389.25,272.43 389.70,272.74 390.15,273.08 390.60,273.06 391.05,273.25 391.50,273.37 391.95,273.20 392.40,273.15 392.85,272.74 393.30,272.95 393.75,272.65 394.20,272.46 394.65,272.42 395.10,272.39 395.55,272.13 396.00,272.10 396.45,272.20 396.90,272.20 397.35,272.03 397.80,272.59 398.25,272.95 398.70,272.69 399.15,272.90 399.60,273.15 400.05,272.52 400.50,272.70 400.95,272.81 401.40,272.48 401.85,272.98 402.30,273.15 402.75,272.99 403.20,272.91 403.65,273.14 404.10,272.56 404.55,273.01 405.00,272.92 405.45,272.68 405.90,272.52 406.35,272.70 406.80,272.39 407.25,272.89 407.70,272.77 408.15,273.15 408.60,273.39 409.05,273.37 409.50,272.75 409.95,272.56 410.40,272.82 410.85,273.23 411.30,273.15 411.75,272.87 412.20,273.14 412.65,272.97 413.10,273.00 413.55,272.89 414.00,273.29 414.45,273.18 414.90,272.68 415.35,272.91 415.80,272.81 416.25,272.55 416.70,272.72 417.15,272.60 417.60,273.16 418.05,272.78 418.50,272.89 418.95,272.46 419.40,272.51 419.85,272.86 420.30,272.89 420.75,273.06 421.20,273.07 421.65,273.11 422.10,272.81 422.55,273.26 423.00,273.24 423.45,272.68 423.90,273.12 424.35,272.75 424.80,272.78 425.25,273.01 425.70,273.36 426.15,272.87 426.60,272.75 427.05,272.88 427.50,273.10 427.95,273.02 428.40,273.20 428.85,273.55 429.30,272.89 429.75,272.87 430.20,273.21 430.65,273.40 431.10,273.62 431.55,273.18 432.00,272.89 432.45,273.11 432.90,273.38 433.35,273.48 433.80,273.30 434.25,272.85 434.70,273.14 435.15,272.88 435.60,272.55 436.05,272.37 436.50,272.58 436.95,272.72 437.40,272.95 437.85,272.97 438.30,273.05 438.75,273.19 439.20,272.86 439.65,273.26 440.10,273.34 440.55,273.51 441.00,273.37 441.45,273.29 441.90,273.51 442.35,273.47 442.80,273.09 443.25,273.45 443.70,273.02 444.15,272.88 444.60,273.31 445.05,273.20 445.50,272.87 445.95,273.38 446.40,273.36 446.85,272.84 447.30,272.87 447.75,272.89 448.20,272.84 448.65,273.22 449.10,272.96 449.55,272.71 450.00,273.28 450.45,273.31 450.90,273.24 451.35,273.58 451.80,273.57 452.25,273.71 452.70,273.32 453.15,273.10 453.60,273.02 454.05,273.11 454.50,273.25 454.95,272.98 455.40,273.17 455.85,273.61 456.30,273.65 456.75,273.00 457.20,273.10 457.65,273.29 458.10,272.86 458.55,273.49 459.00,273.62 459.45,273.48 459.90,273.38 460.35,273.43 460.80,273.24 461.25,273.30 461.70,273.27 462.15,273.11 462.60,273.14 463.05,272.79 463.50,273.11 463.95,272.93 464.40,272.87 464.85,272.73 465.30,273.20 465.75,273.17 466.20,273.27 466.65,273.25 467.10,273.31 467.55,273.14 468.00,272.96 468.45,273.33 468.90,273.47 469.35,273.03 469.80,272.80 470.25,272.87 470.70,273.30 471.15,273.09 471.60,272.90 472.05,272.99 472.50,273.10 472.95,273.27 473.40,273.07 473.85,273.05 474.30,273.56 474.75,273.61 475.20,273.15 475.65,273.18 476.10,272.87 476.55,273.47 477.00,273.11 477.45,273.54 477.90,273.11 478.35,272.90 478.80,272.90 479.25,272.89 479.70,272.90 480.15,272.94 480.60,272.98 481.05,272.73 481.50,273.07 481.95,273.30 482.40,272.99 482.85,272.76 483.30,272.55 483.75,272.58 484.20,272.89 484.65,273.14 485.10,273.55 485.55,273.65 486.00,273.10 486.45,272.92 486.90,272.77 487.35,272.58 487.80,272.45 488.25,272.84 488.70,273.41 489.15,273.72 489.60,273.01 490.05,272.86 490.50,272.87 490.95,273.34 491.40,272.89 491.85,272.97 492.30,273.40 492.75,273.53 493.20,273.05 493.65,273.12 494.10,273.30 494.55,272.88 495.00,273.34 495.45,273.40 495.90,273.15 496.35,273.00 496.80,272.70 497.25,273.28 497.70,272.93 498.15,273.11 498.60,273.30 499.05,273.31 499.50,273.49 499.95,273.11 500.40,273.27 500.85,272.94 501.30,273.22 501.75,273.41 502.20,273.24 502.65,273.39 503.10,273.42 503.55,272.83 504.00,272.72 504.45,272.66 504.90,273.06 505.35,273.39 505.80,273.01 506.25,273.45 506.70,273.01 507.15,273.00 507.60,273.37 508.05,273.05 508.50,273.40 508.95,272.85 509.40,272.79 509.85,273.26 510.30,273.32 510.75,272.87 511.20,272.98 511.65,273.07 512.10,272.66 512.55,273.27 513.00,272.76 513.45,273.31 513.90,273.38 514.35,273.38 514.80,273.12 515.25,272.88 515.70,272.98 516.15,273.44 516.60,272.90 517.05,272.98 517.50,273.13 517.95,273.53 518.40,273.49 518.85,273.69 519.30,273.57 519.75,273.27 520.20,273.57 520.65,272.91 521.10,273.22 521.55,272.71 522.00,272.52 522.45,272.40 522.90,272.69 523.35,273.15 523.80,273.38 524.25,273.33 524.70,273.08 525.15,272.89 525.60,272.94 526.05,272.85 526.50,272.97 526.95,273.15 527.40,272.74 527.85,273.29 528.30,272.84 528.75,273.29 529.20,272.74 529.65,272.45 530.10,273.17 530.55,272.96 531.00,272.91 531.45,273.22 531.90,272.76 532.35,273.00 532.80,273.36"/>
<g fill="#1868e0"><polygon points="76.50,268.40 82.10,277.90 70.90,277.90"/><polygon points="121.50,265.30 127.10,274.80 115.90,274.80"/><polygon points="165.50,258.80 171.10,268.30 159.90,268.30"/><polygon points="210.50,265.90 216.10,275.40 204.90,275.40"/><polygon points="255.00,266.20 260.60,275.70 249.40,275.70"/><polygon points="300.50,248.10 306.10,257.60 294.90,257.60"/><polygon points="344.60,266.30 350.20,275.80 339.00,275.80"/><polygon points="389.50,266.80 395.10,276.30 383.90,276.30"/><polygon points="434.00,267.00 439.60,276.50 428.40,276.50"/><polygon points="479.30,267.20 484.90,276.70 473.70,276.70"/><polygon points="524.00,267.40 529.60,276.90 518.40,276.90"/></g>
<polyline fill="none" stroke="#1fa559" stroke-width="2.2" stroke-linejoin="round" stroke-linecap="round" points="76.50,230.83 76.95,230.84 77.40,231.09 77.85,230.56 78.30,230.30 78.75,229.96 79.20,229.83 79.65,229.63 80.10,229.63 80.55,229.91 81.00,230.44 81.45,230.40 81.90,230.06 82.35,229.67 82.80,229.52 83.25,228.90 83.70,228.02 84.15,227.61 84.60,225.83 85.05,221.94 85.50,215.89 85.95,207.67 86.40,199.54 86.85,191.94 87.30,189.36 87.75,192.46 88.20,198.83 88.65,207.48 89.10,215.24 89.55,221.04 90.00,223.64 90.45,224.88 90.90,225.29 91.35,225.18 91.80,225.59 92.25,225.91 92.70,225.75 93.15,225.30 93.60,225.63 94.05,225.72 94.50,225.45 94.95,224.58 95.40,223.88 95.85,222.38 96.30,220.52 96.75,218.66 97.20,217.04 97.65,216.68 98.10,217.65 98.55,219.17 99.00,220.75 99.45,222.81 99.90,224.35 100.35,224.64 100.80,224.95 101.25,225.17 101.70,225.07 102.15,225.68 102.60,225.90 103.05,225.93 103.50,226.35 103.95,225.99 104.40,225.65 104.85,225.33 105.30,225.13 105.75,224.89 106.20,223.34 106.65,219.97 107.10,215.70 107.55,209.99 108.00,205.17 108.45,201.60 108.90,201.35 109.35,204.77 109.80,210.23 110.25,215.72 110.70,219.99 111.15,223.25 111.60,224.75 112.05,225.23 112.50,225.65 112.95,226.19 113.40,226.39 113.85,226.10 114.30,226.54 114.75,226.76 115.20,226.39 115.65,226.82 116.10,226.42 116.55,226.05 117.00,226.27 117.45,226.71 117.90,226.70 118.35,226.60 118.80,226.47 119.25,226.19 119.70,226.03 120.15,226.02 120.60,226.09 121.05,226.42 121.50,225.68 121.95,225.25 122.40,225.30 122.85,224.55 123.30,223.04 123.75,222.02 124.20,221.31 124.65,221.13 125.10,220.60 125.55,221.63 126.00,222.65 126.45,223.24 126.90,224.10 127.35,224.95 127.80,224.90 128.25,225.28 128.70,225.32 129.15,224.88 129.60,224.82 130.05,224.89 130.50,224.67 130.95,225.26 131.40,224.92 131.85,224.72 132.30,224.93 132.75,224.96 133.20,224.77 133.65,224.66 134.10,224.75 134.55,225.14 135.00,224.58 135.45,225.03 135.90,225.27 136.35,225.14 136.80,225.16 137.25,224.78 137.70,225.10 138.15,225.04 138.60,224.95 139.05,224.67 139.50,224.31 139.95,224.54 140.40,224.68 140.85,224.07 141.30,224.03 141.75,224.20 142.20,223.97 142.65,223.77 143.10,223.71 143.55,223.50 144.00,223.48 144.45,223.70 144.90,223.89 145.35,224.05 145.80,223.79 146.25,223.45 146.70,223.95 147.15,223.90 147.60,223.88 148.05,223.84 148.50,223.44 148.95,223.45 149.40,223.16 149.85,223.28 150.30,223.44 150.75,222.76 151.20,223.08 151.65,222.59 152.10,222.20 152.55,221.99 153.00,222.27 153.45,222.62 153.90,222.80 154.35,222.14 154.80,222.00 155.25,222.33 155.70,222.38 156.15,222.29 156.60,221.66 157.05,221.29 157.50,220.90 157.95,220.71 158.40,220.70 158.85,220.95 159.30,220.83 159.75,220.17 160.20,219.66 160.65,219.43 161.10,219.46 161.55,218.85 162.00,218.57 162.45,218.10 162.90,217.83 163.35,217.20 163.80,216.68 164.25,216.48 164.70,216.73 165.15,216.51 165.60,216.49 166.05,217.28 166.50,217.58 166.95,218.12 167.40,218.20 167.85,218.32 168.30,218.73 168.75,219.26 169.20,219.28 169.65,219.57 170.10,220.36 170.55,220.32 171.00,219.76 171.45,219.77 171.90,218.40 172.35,215.80 172.80,211.76 173.25,204.71 173.70,193.50 174.15,178.49 174.60,159.54 175.05,137.36 175.50,115.26 175.95,95.49 176.40,82.11 176.85,75.59 177.30,76.89 177.75,84.23 178.20,94.85 178.65,107.26 179.10,119.38 179.55,129.30 180.00,138.68 180.45,146.72 180.90,154.91 181.35,162.18 181.80,170.15 182.25,177.86 182.70,185.40 183.15,192.85 183.60,198.82 184.05,203.70 184.50,208.21 184.95,210.89 185.40,213.18 185.85,215.83 186.30,217.68 186.75,219.47 187.20,220.60 187.65,222.04 188.10,222.61 188.55,223.11 189.00,224.21 189.45,224.64 189.90,224.54 190.35,224.59 190.80,224.70 191.25,225.46 191.70,225.82 192.15,225.57 192.60,226.10 193.05,226.38 193.50,226.36 193.95,226.30 194.40,226.14 194.85,226.29 195.30,226.09 195.75,226.48 196.20,226.37 196.65,226.39 197.10,226.62 197.55,226.79 198.00,226.47 198.45,225.93 198.90,226.03 199.35,226.44 199.80,226.00 200.25,225.82 200.70,225.75 201.15,225.68 201.60,226.16 202.05,226.15 202.50,225.75 202.95,225.92 203.40,226.18 203.85,225.70 204.30,225.62 204.75,225.41 205.20,225.92 205.65,225.91 206.10,225.55 206.55,225.59 207.00,225.55 207.45,225.88 207.90,225.91 208.35,225.92 208.80,225.84 209.25,225.54 209.70,225.65 210.15,225.98 210.60,226.06 211.05,226.14 211.50,225.80 211.95,225.52 212.40,226.03 212.85,226.24 213.30,226.29 213.75,226.59 214.20,226.15 214.65,226.32 215.10,226.00 215.55,226.12 216.00,226.45 216.45,226.22 216.90,226.24 217.35,226.59 217.80,226.31 218.25,225.95 218.70,226.41 219.15,226.39 219.60,226.06 220.05,225.86 220.50,225.52 220.95,225.41 221.40,226.16 221.85,226.16 222.30,226.35 222.75,225.97 223.20,226.31 223.65,226.36 224.10,226.54 224.55,226.28 225.00,226.54 225.45,226.35 225.90,225.88 226.35,226.33 226.80,226.00 227.25,226.40 227.70,226.27 228.15,226.06 228.60,226.07 229.05,225.94 229.50,225.61 229.95,225.41 230.40,225.35 230.85,226.05 231.30,225.91 231.75,225.54 232.20,225.70 232.65,225.98 233.10,226.13 233.55,226.45 234.00,226.10 234.45,226.47 234.90,225.81 235.35,225.61 235.80,225.81 236.25,226.05 236.70,225.96 237.15,226.25 237.60,226.18 238.05,225.65 238.50,225.73 238.95,226.00 239.40,225.79 239.85,225.62 240.30,225.95 240.75,225.95 241.20,226.42 241.65,226.62 242.10,226.14 242.55,225.66 243.00,225.54 243.45,225.72 243.90,225.80 244.35,225.84 244.80,225.55 245.25,225.60 245.70,225.72 246.15,226.09 246.60,225.70 247.05,225.97 247.50,225.88 247.95,226.19 248.40,226.26 248.85,225.85 249.30,226.11 249.75,225.94 250.20,226.27 250.65,225.72 251.10,225.71 251.55,225.89 252.00,225.78 252.45,225.82 252.90,226.01 253.35,225.81 253.80,226.27 254.25,225.99 254.70,226.22 255.15,226.58 255.60,225.99 256.05,226.40 256.50,225.98 256.95,226.02 257.40,225.75 257.85,226.34 258.30,226.09 258.75,226.15 259.20,226.59 259.65,226.08 260.10,225.77 260.55,226.17 261.00,225.79 261.45,225.68 261.90,225.74 262.35,225.56 262.80,225.77 263.25,225.62 263.70,226.34 264.15,226.33 264.60,225.89 265.05,226.32 265.50,226.09 265.95,226.55 266.40,226.03 266.85,225.85 267.30,225.98 267.75,226.47 268.20,226.81 268.65,227.01 269.10,226.44 269.55,226.30 270.00,226.67 270.45,226.83 270.90,227.02 271.35,226.35 271.80,225.98 272.25,226.13 272.70,226.61 273.15,226.71 273.60,226.52 274.05,226.67 274.50,226.53 274.95,226.82 275.40,226.48 275.85,226.73 276.30,226.32 276.75,226.51 277.20,226.36 277.65,226.32 278.10,226.23 278.55,225.99 279.00,225.92 279.45,226.41 279.90,226.66 280.35,226.78 280.80,226.64 281.25,226.72 281.70,226.95 282.15,227.24 282.60,226.85 283.05,226.98 283.50,227.11 283.95,227.21 284.40,227.11 284.85,226.66 285.30,226.97 285.75,226.90 286.20,227.03 286.65,227.11 287.10,226.67 287.55,226.33 288.00,226.80 288.45,226.94 288.90,226.43 289.35,226.20 289.80,226.43 290.25,226.76 290.70,226.44 291.15,226.79 291.60,226.65 292.05,226.85 292.50,226.61 292.95,226.45 293.40,226.28 293.85,226.66 294.30,226.74 294.75,226.21 295.20,225.86 295.65,226.12 296.10,225.41 296.55,225.17 297.00,224.41 297.45,222.97 297.90,220.47 298.35,217.75 298.80,215.41 299.25,212.10 299.70,208.33 300.15,204.90 300.60,202.04 301.05,199.72 301.50,198.08 301.95,198.18 302.40,198.49 302.85,200.18 303.30,203.04 303.75,206.32 304.20,209.78 304.65,212.67 305.10,215.48 305.55,218.44 306.00,220.97 306.45,222.79 306.90,224.13 307.35,224.76 307.80,225.49 308.25,226.10 308.70,226.16 309.15,225.77 309.60,226.18 310.05,225.65 310.50,225.36 310.95,225.46 311.40,225.58 311.85,226.19 312.30,226.28 312.75,226.07 313.20,226.09 313.65,225.96 314.10,226.30 314.55,226.16 315.00,225.76 315.45,225.92 315.90,225.65 316.35,224.82 316.80,224.47 317.25,222.96 317.70,222.33 318.15,220.95 318.60,219.61 319.05,218.62 319.50,217.14 319.95,215.95 320.40,214.88 320.85,214.64 321.30,214.62 321.75,214.80 322.20,214.79 322.65,215.88 323.10,216.60 323.55,217.17 324.00,218.10 324.45,219.06 324.90,220.09 325.35,221.45 325.80,222.80 326.25,223.83 326.70,224.92 327.15,225.73 327.60,226.00 328.05,226.48 328.50,226.85 328.95,226.73 329.40,226.98 329.85,226.86 330.30,226.96 330.75,227.02 331.20,227.08 331.65,226.65 332.10,225.90 332.55,225.32 333.00,225.37 333.45,225.03 333.90,224.79 334.35,223.79 334.80,223.65 335.25,223.60 335.70,223.08 336.15,222.56 336.60,223.01 337.05,222.96 337.50,223.87 337.95,224.64 338.40,224.92 338.85,225.76 339.30,225.88 339.75,226.47 340.20,226.38 340.65,226.77 341.10,226.44 341.55,226.50 342.00,226.59 342.45,227.08 342.90,227.27 343.35,226.72 343.80,226.77 344.25,227.14 344.70,227.46 345.15,227.15 345.60,226.73 346.05,227.08 346.50,226.73 346.95,226.92 347.40,226.76 347.85,226.46 348.30,226.28 348.75,226.54 349.20,226.34 349.65,226.77 350.10,227.08 350.55,227.22 351.00,227.06 351.45,227.07 351.90,227.25 352.35,226.79 352.80,226.73 353.25,226.20 353.70,226.29 354.15,226.48 354.60,225.86 355.05,225.76 355.50,225.17 355.95,225.62 356.40,225.03 356.85,224.99 357.30,225.23 357.75,225.80 358.20,226.02 358.65,225.85 359.10,226.38 359.55,226.21 360.00,226.43 360.45,227.14 360.90,227.12 361.35,226.67 361.80,226.66 362.25,226.70 362.70,226.63 363.15,227.12 363.60,226.93 364.05,227.20 364.50,227.23 364.95,227.54 365.40,227.22 365.85,226.76 366.30,227.11 366.75,227.22 367.20,226.80 367.65,226.99 368.10,226.79 368.55,227.46 369.00,227.41 369.45,227.60 369.90,227.55 370.35,227.50 370.80,227.70 371.25,227.06 371.70,227.04 372.15,227.30 372.60,227.15 373.05,227.59 373.50,227.27 373.95,227.49 374.40,227.44 374.85,227.40 375.30,227.69 375.75,227.93 376.20,228.07 376.65,227.57 377.10,227.50 377.55,227.11 378.00,227.50 378.45,227.54 378.90,227.45 379.35,227.44 379.80,227.30 380.25,227.09 380.70,227.22 381.15,227.51 381.60,227.11 382.05,227.06 382.50,227.09 382.95,227.54 383.40,227.52 383.85,227.86 384.30,227.61 384.75,227.29 385.20,227.23 385.65,226.98 386.10,227.28 386.55,227.41 387.00,227.43 387.45,227.67 387.90,227.74 388.35,227.55 388.80,227.78 389.25,227.43 389.70,227.71 390.15,227.63 390.60,227.92 391.05,228.14 391.50,227.94 391.95,227.50 392.40,227.77 392.85,227.34 393.30,227.19 393.75,227.24 394.20,227.81 394.65,227.71 395.10,227.98 395.55,227.93 396.00,228.00 396.45,227.51 396.90,228.11 397.35,227.96 397.80,227.58 398.25,227.82 398.70,228.23 399.15,228.08 399.60,228.17 400.05,227.73 400.50,227.57 400.95,227.64 401.40,227.41 401.85,227.83 402.30,227.49 402.75,227.73 403.20,228.05 403.65,227.73 404.10,228.34 404.55,228.29 405.00,228.41 405.45,228.44 405.90,228.32 406.35,228.10 406.80,228.19 407.25,228.33 407.70,228.09 408.15,227.66 408.60,228.28 409.05,228.00 409.50,228.45 409.95,228.74 410.40,228.03 410.85,228.46 411.30,228.16 411.75,228.49 412.20,228.57 412.65,228.16 413.10,228.43 413.55,227.94 414.00,228.43 414.45,228.39 414.90,228.72 415.35,228.43 415.80,228.50 416.25,228.17 416.70,227.99 417.15,227.69 417.60,228.16 418.05,228.62 418.50,228.35 418.95,227.91 419.40,227.70 419.85,227.71 420.30,228.21 420.75,228.06 421.20,228.13 421.65,228.53 422.10,228.57 422.55,228.02 423.00,228.55 423.45,228.60 423.90,228.15 424.35,227.82 424.80,228.42 425.25,228.17 425.70,228.26 426.15,228.11 426.60,228.44 427.05,228.33 427.50,228.50 427.95,228.80 428.40,228.23 428.85,228.19 429.30,228.49 429.75,228.74 430.20,228.89 430.65,228.55 431.10,228.63 431.55,228.58 432.00,228.82 432.45,228.32 432.90,227.99 433.35,227.91 433.80,228.01 434.25,228.43 434.70,228.54 435.15,228.30 435.60,227.97 436.05,228.13 436.50,228.72 436.95,228.23 437.40,228.72 437.85,228.51 438.30,228.60 438.75,228.42 439.20,228.87 439.65,228.96 440.10,228.89 440.55,228.71 441.00,228.69 441.45,228.37 441.90,228.57 442.35,228.92 442.80,228.35 443.25,228.42 443.70,228.49 444.15,228.55 444.60,229.00 445.05,228.86 445.50,228.69 445.95,228.27 446.40,228.25 446.85,228.77 447.30,228.80 447.75,228.93 448.20,229.15 448.65,229.25 449.10,229.29 449.55,229.39 450.00,229.40 450.45,229.19 450.90,228.94 451.35,228.39 451.80,228.92 452.25,228.77 452.70,228.55 453.15,228.49 453.60,228.82 454.05,229.00 454.50,228.66 454.95,228.38 455.40,228.46 455.85,228.24 456.30,228.57 456.75,228.96 457.20,228.75 457.65,228.41 458.10,228.96 458.55,228.55 459.00,228.35 459.45,228.55 459.90,228.80 460.35,228.63 460.80,228.33 461.25,228.35 461.70,228.88 462.15,229.23 462.60,228.75 463.05,228.92 463.50,229.09 463.95,229.21 464.40,228.53 464.85,228.21 465.30,228.10 465.75,228.48 466.20,228.35 466.65,228.92 467.10,228.61 467.55,228.63 468.00,228.36 468.45,228.92 468.90,228.59 469.35,228.47 469.80,228.43 470.25,228.33 470.70,228.17 471.15,228.74 471.60,228.38 472.05,228.40 472.50,228.15 472.95,228.51 473.40,228.64 473.85,229.09 474.30,228.51 474.75,229.05 475.20,228.58 475.65,228.55 476.10,229.04 476.55,229.24 477.00,229.38 477.45,228.79 477.90,228.48 478.35,228.50 478.80,228.50 479.25,228.73 479.70,228.35 480.15,228.65 480.60,228.28 481.05,228.38 481.50,228.64 481.95,228.51 482.40,228.85 482.85,229.06 483.30,229.04 483.75,228.88 484.20,228.77 484.65,228.80 485.10,229.11 485.55,229.42 486.00,228.86 486.45,229.17 486.90,229.22 487.35,229.06 487.80,228.89 488.25,229.10 488.70,229.40 489.15,229.13 489.60,228.56 490.05,228.79 490.50,228.54 490.95,228.34 491.40,228.66 491.85,228.55 492.30,228.95 492.75,228.81 493.20,229.16 493.65,228.61 494.10,229.14 494.55,229.16 495.00,228.60 495.45,228.52 495.90,229.08 496.35,229.25 496.80,228.65 497.25,229.01 497.70,228.86 498.15,228.78 498.60,229.06 499.05,228.61 499.50,228.78 499.95,228.54 500.40,228.88 500.85,229.06 501.30,229.09 501.75,228.36 502.20,227.81 502.65,227.76 503.10,227.36 503.55,227.13 504.00,227.20 504.45,227.33 504.90,227.14 505.35,227.36 505.80,227.20 506.25,227.30 506.70,227.04 507.15,226.71 507.60,227.14 508.05,227.11 508.50,227.22 508.95,226.94 509.40,226.87 509.85,226.86 510.30,227.08 510.75,227.41 511.20,227.75 511.65,228.29 512.10,228.34 512.55,228.39 513.00,228.52 513.45,228.74 513.90,229.10 514.35,229.42 514.80,228.92 515.25,228.82 515.70,228.80 516.15,228.99 516.60,228.83 517.05,228.60 517.50,229.15 517.95,228.89 518.40,229.14 518.85,229.17 519.30,228.64 519.75,228.58 520.20,228.80 520.65,229.09 521.10,229.45 521.55,228.94 522.00,228.55 522.45,229.05 522.90,229.38 523.35,228.81 523.80,228.80 524.25,228.64 524.70,228.61 525.15,228.65 525.60,228.74 526.05,228.78 526.50,228.65 526.95,228.61 527.40,228.87 527.85,228.90 528.30,228.94 528.75,228.66 529.20,228.80 529.65,229.20 530.10,228.84 530.55,228.61 531.00,228.74 531.45,228.57 531.90,228.54 532.35,228.56 532.80,229.18"/>
<g fill="#25aa5f"><polygon points="70.70,227.10 81.90,227.10 76.30,236.70"/><polygon points="115.40,223.00 126.60,223.00 121.00,232.60"/><polygon points="159.70,212.80 170.90,212.80 165.30,222.40"/><polygon points="204.90,222.80 216.10,222.80 210.50,232.40"/><polygon points="249.40,223.00 260.60,223.00 255.00,232.60"/><polygon points="294.60,201.10 305.80,201.10 300.20,210.70"/><polygon points="339.00,224.40 350.20,224.40 344.60,234.00"/><polygon points="383.90,225.20 395.10,225.20 389.50,234.80"/><polygon points="428.40,225.40 439.60,225.40 434.00,235.00"/><polygon points="473.90,225.80 485.10,225.80 479.50,235.40"/><polygon points="518.40,226.00 529.60,226.00 524.00,235.60"/></g>
<g fill="#000">
<rect x="39" y="8.8" width="3" height="399"/>
<rect x="39" y="8.8" width="495.2" height="3"/>
<rect x="531.9" y="8.8" width="2.4" height="399"/>
<rect x="39" y="404.9" width="495.2" height="3"/>
<rect x="84" y="399" width="3" height="6"/>
<rect x="173" y="399" width="3" height="6"/>
<rect x="263" y="399" width="3" height="6"/>
<rect x="352" y="399" width="3" height="6"/>
<rect x="442" y="399" width="3" height="6"/>
<rect x="128" y="402.4" width="3" height="2.6"/>
<rect x="218" y="402.4" width="3" height="2.6"/>
<rect x="308" y="402.4" width="3" height="2.6"/>
<rect x="397" y="402.4" width="3" height="2.6"/>
<rect x="487" y="402.4" width="3" height="2.6"/>
</g>
<g font-family="Liberation Serif, Times New Roman, serif" font-size="16.5" fill="#000" text-anchor="middle">
<text x="85.50" y="427.6">0</text>
<text x="174.50" y="427.6">2</text>
<text x="264.50" y="427.6">4</text>
<text x="353.50" y="427.6">6</text>
<text x="443.50" y="427.6">8</text>
<text x="533.60" y="427.6">10</text>
</g>
<text x="292.2" y="459.5" font-family="Liberation Serif, serif" font-size="20.4" text-anchor="middle">keV</text>
<text transform="translate(23.2,208.3) rotate(-90)" font-family="Liberation Serif, serif" font-size="19.6" text-anchor="middle" textLength="101.8" lengthAdjust="spacing">cps/eV (a.u)</text>
<g font-family="Liberation Serif, serif" font-size="20.4" fill="#000">
<text x="183.0" y="74.3">Zr</text>
<text x="77.5" y="177.8">C</text>
<text x="102.8" y="194.0">O</text>
<text x="291.5" y="183.0">Ce</text>
<text x="317.5" y="204.6">Ce</text>
</g>
<line x1="393.8" y1="71.3" x2="441.2" y2="71.3" stroke="#3e3e3e" stroke-width="1.60"/>
<g fill="#505050"><rect x="413.20" y="67.10" width="8.4" height="8.4"/></g>
<text x="446.2" y="77.7" font-family="Liberation Serif, serif" font-size="20.3">1CZ</text>
<line x1="393.8" y1="96.3" x2="441.2" y2="96.3" stroke="#ef3439" stroke-width="1.80"/>
<g fill="#f03a3e"><circle cx="417.40" cy="96.30" r="4.85"/></g>
<text x="446.2" y="103.4" font-family="Liberation Serif, serif" font-size="20.3">2CZ</text>
<line x1="393.8" y1="121.6" x2="441.2" y2="121.6" stroke="#1464dc" stroke-width="1.90"/>
<g fill="#1868e0"><polygon points="417.40,115.30 423.00,124.60 411.80,124.60"/></g>
<text x="446.2" y="129.0" font-family="Liberation Serif, serif" font-size="20.3">3CZ</text>
<line x1="393.8" y1="147.3" x2="441.2" y2="147.3" stroke="#1fa559" stroke-width="1.90"/>
<g fill="#25aa5f"><polygon points="411.80,144.10 423.00,144.10 417.40,153.90"/></g>
<text x="446.2" y="154.2" font-family="Liberation Serif, serif" font-size="20.3">4CZ</text>
</svg>
</body></html>
